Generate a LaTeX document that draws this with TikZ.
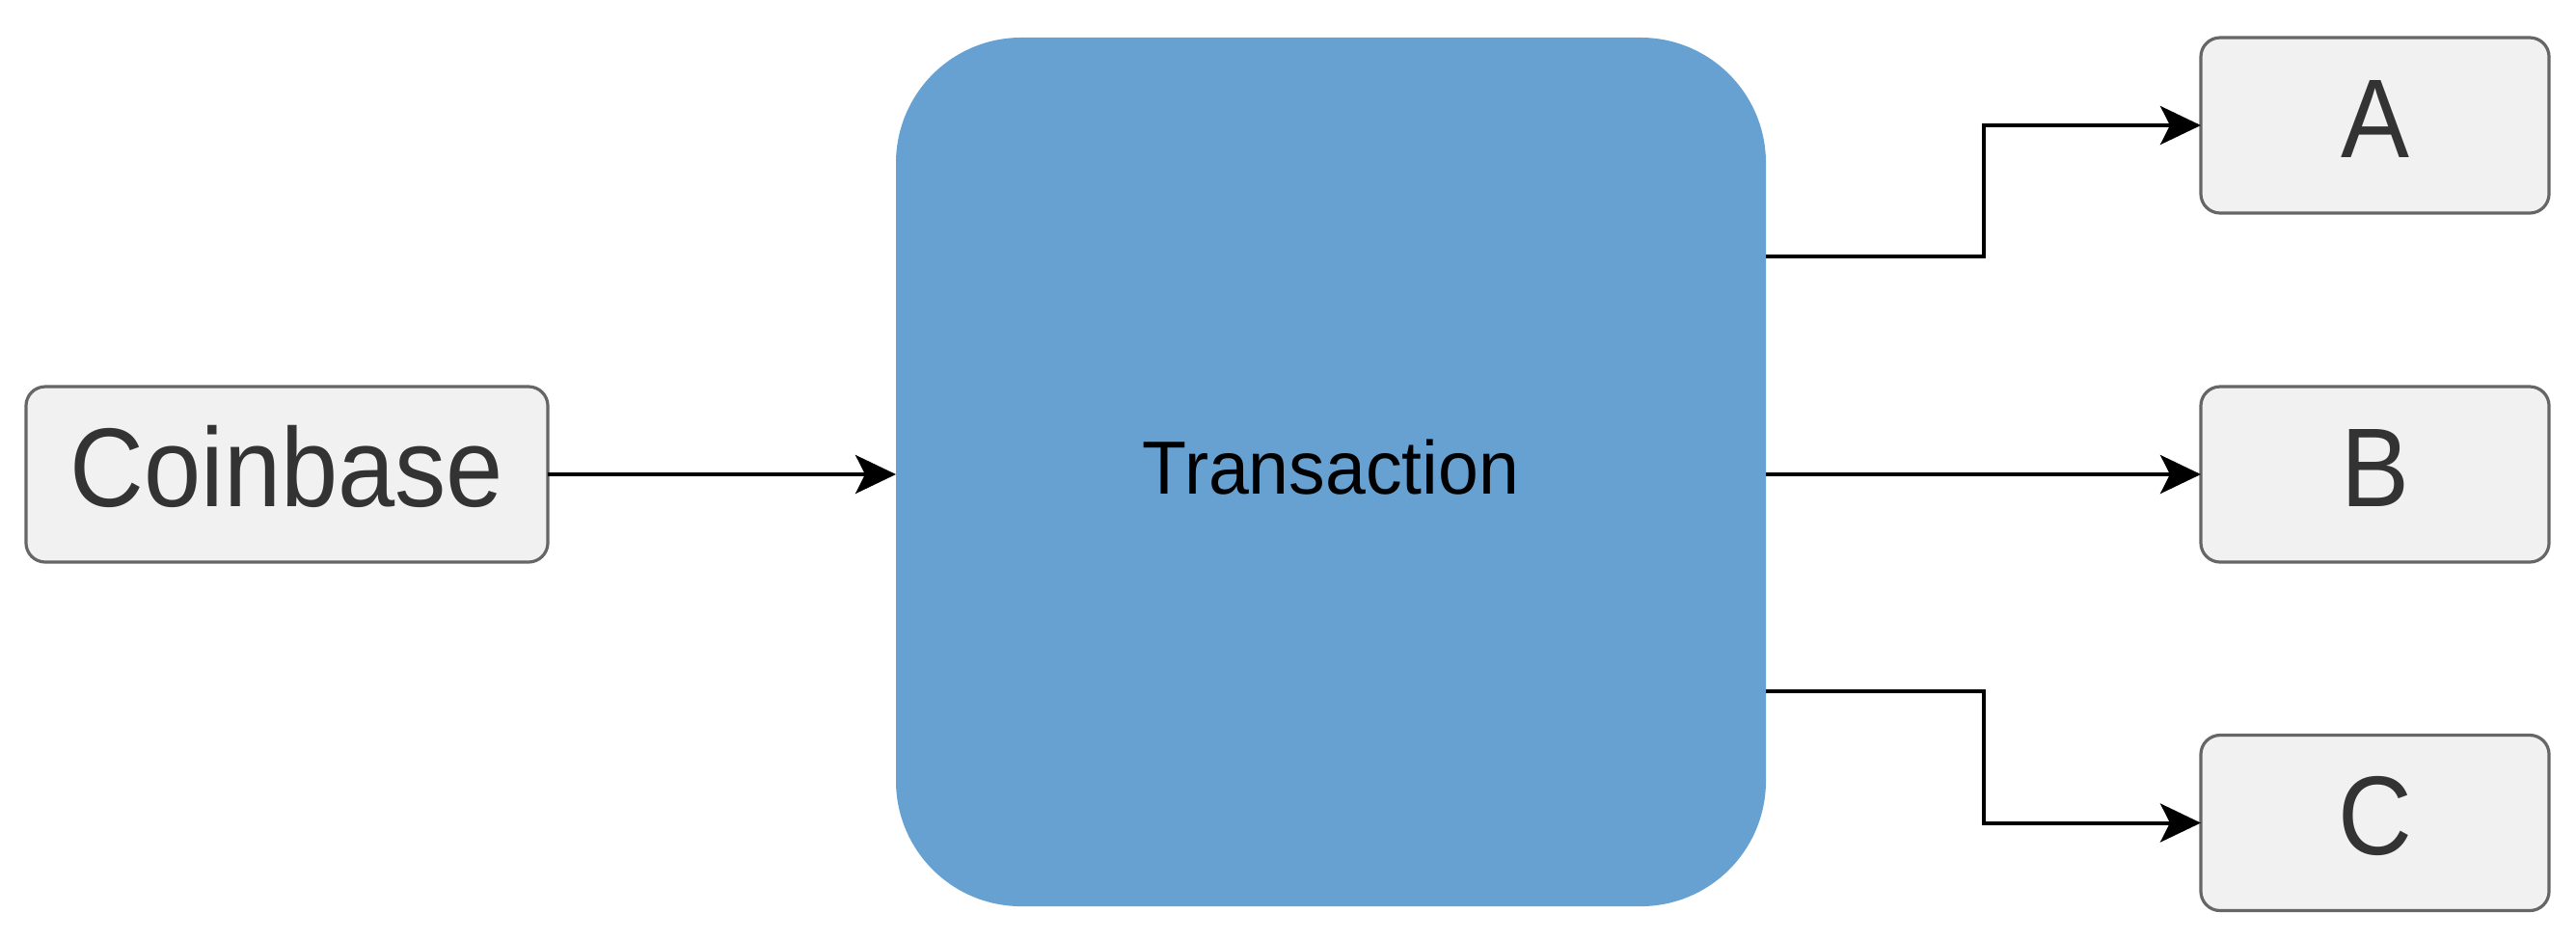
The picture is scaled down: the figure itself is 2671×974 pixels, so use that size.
\documentclass[tikz,border=0pt]{standalone}
\usepackage{fontspec}
\setmainfont{Liberation Sans}
\newfontfamily\bigfont[FakeStretch=0.915]{Liberation Sans}
\newfontfamily\midfont[FakeStretch=0.963]{Liberation Sans}
\usetikzlibrary{arrows.meta}
\definecolor{txblue}{RGB}{103,161,209}
\definecolor{boxfill}{RGB}{241,241,241}
\definecolor{boxline}{RGB}{102,102,102}
\definecolor{boxtext}{RGB}{51,51,51}
\newcommand{\upby}[2]{\raisebox{#1}[\height][\depth]{#2}}
\tikzset{
  leafbox/.style={draw=boxline, fill=boxfill, line width=1.2pt, rounded corners=7.5pt,
    inner sep=0pt, outer sep=0pt, minimum width=135.4pt, minimum height=68.25pt,
    text=boxtext, font=\bigfont\fontsize{43.6}{52}\selectfont},
  txbox/.style={fill=txblue, rounded corners=48.75pt, inner sep=0pt, outer sep=0pt,
    minimum width=338.25pt, minimum height=337.9pt, text=black,
    font=\midfont\fontsize{29.3}{35}\selectfont},
  conn/.style={line width=1.5pt, -{Stealth[length=15.75pt, width=15pt, inset=3.75pt]}}
}
\begin{document}
\begin{tikzpicture}[x=0.375pt, y=-0.375pt]
\useasboundingbox (0,0) rectangle (2671,974);
\node[leafbox, minimum width=202.9pt] (cb) at (297.5,492) {\upby{3pt}{Coinbase}};
\node[txbox] (tx) at (1380,489.5) {\upby{2pt}{Transaction}};
\node[leafbox] (a) at (2462.5,130) {\upby{2.5pt}{A}};
\node[leafbox] (b) at (2462.5,492) {\upby{2.5pt}{B}};
\node[leafbox] (c) at (2462.5,853.5) {\upby{2.5pt}{C}};
\coordinate (ka) at (2057,266);
\coordinate (kc) at (2057,717);
\draw[conn] (cb.east) -- (cb.east -| tx.west);
\draw[conn] (ka -| tx.east) -- (ka) |- (a.west);
\draw[conn] (b.west -| tx.east) -- (b.west);
\draw[conn] (kc -| tx.east) -- (kc) |- (c.west);
\end{tikzpicture}
\end{document}
